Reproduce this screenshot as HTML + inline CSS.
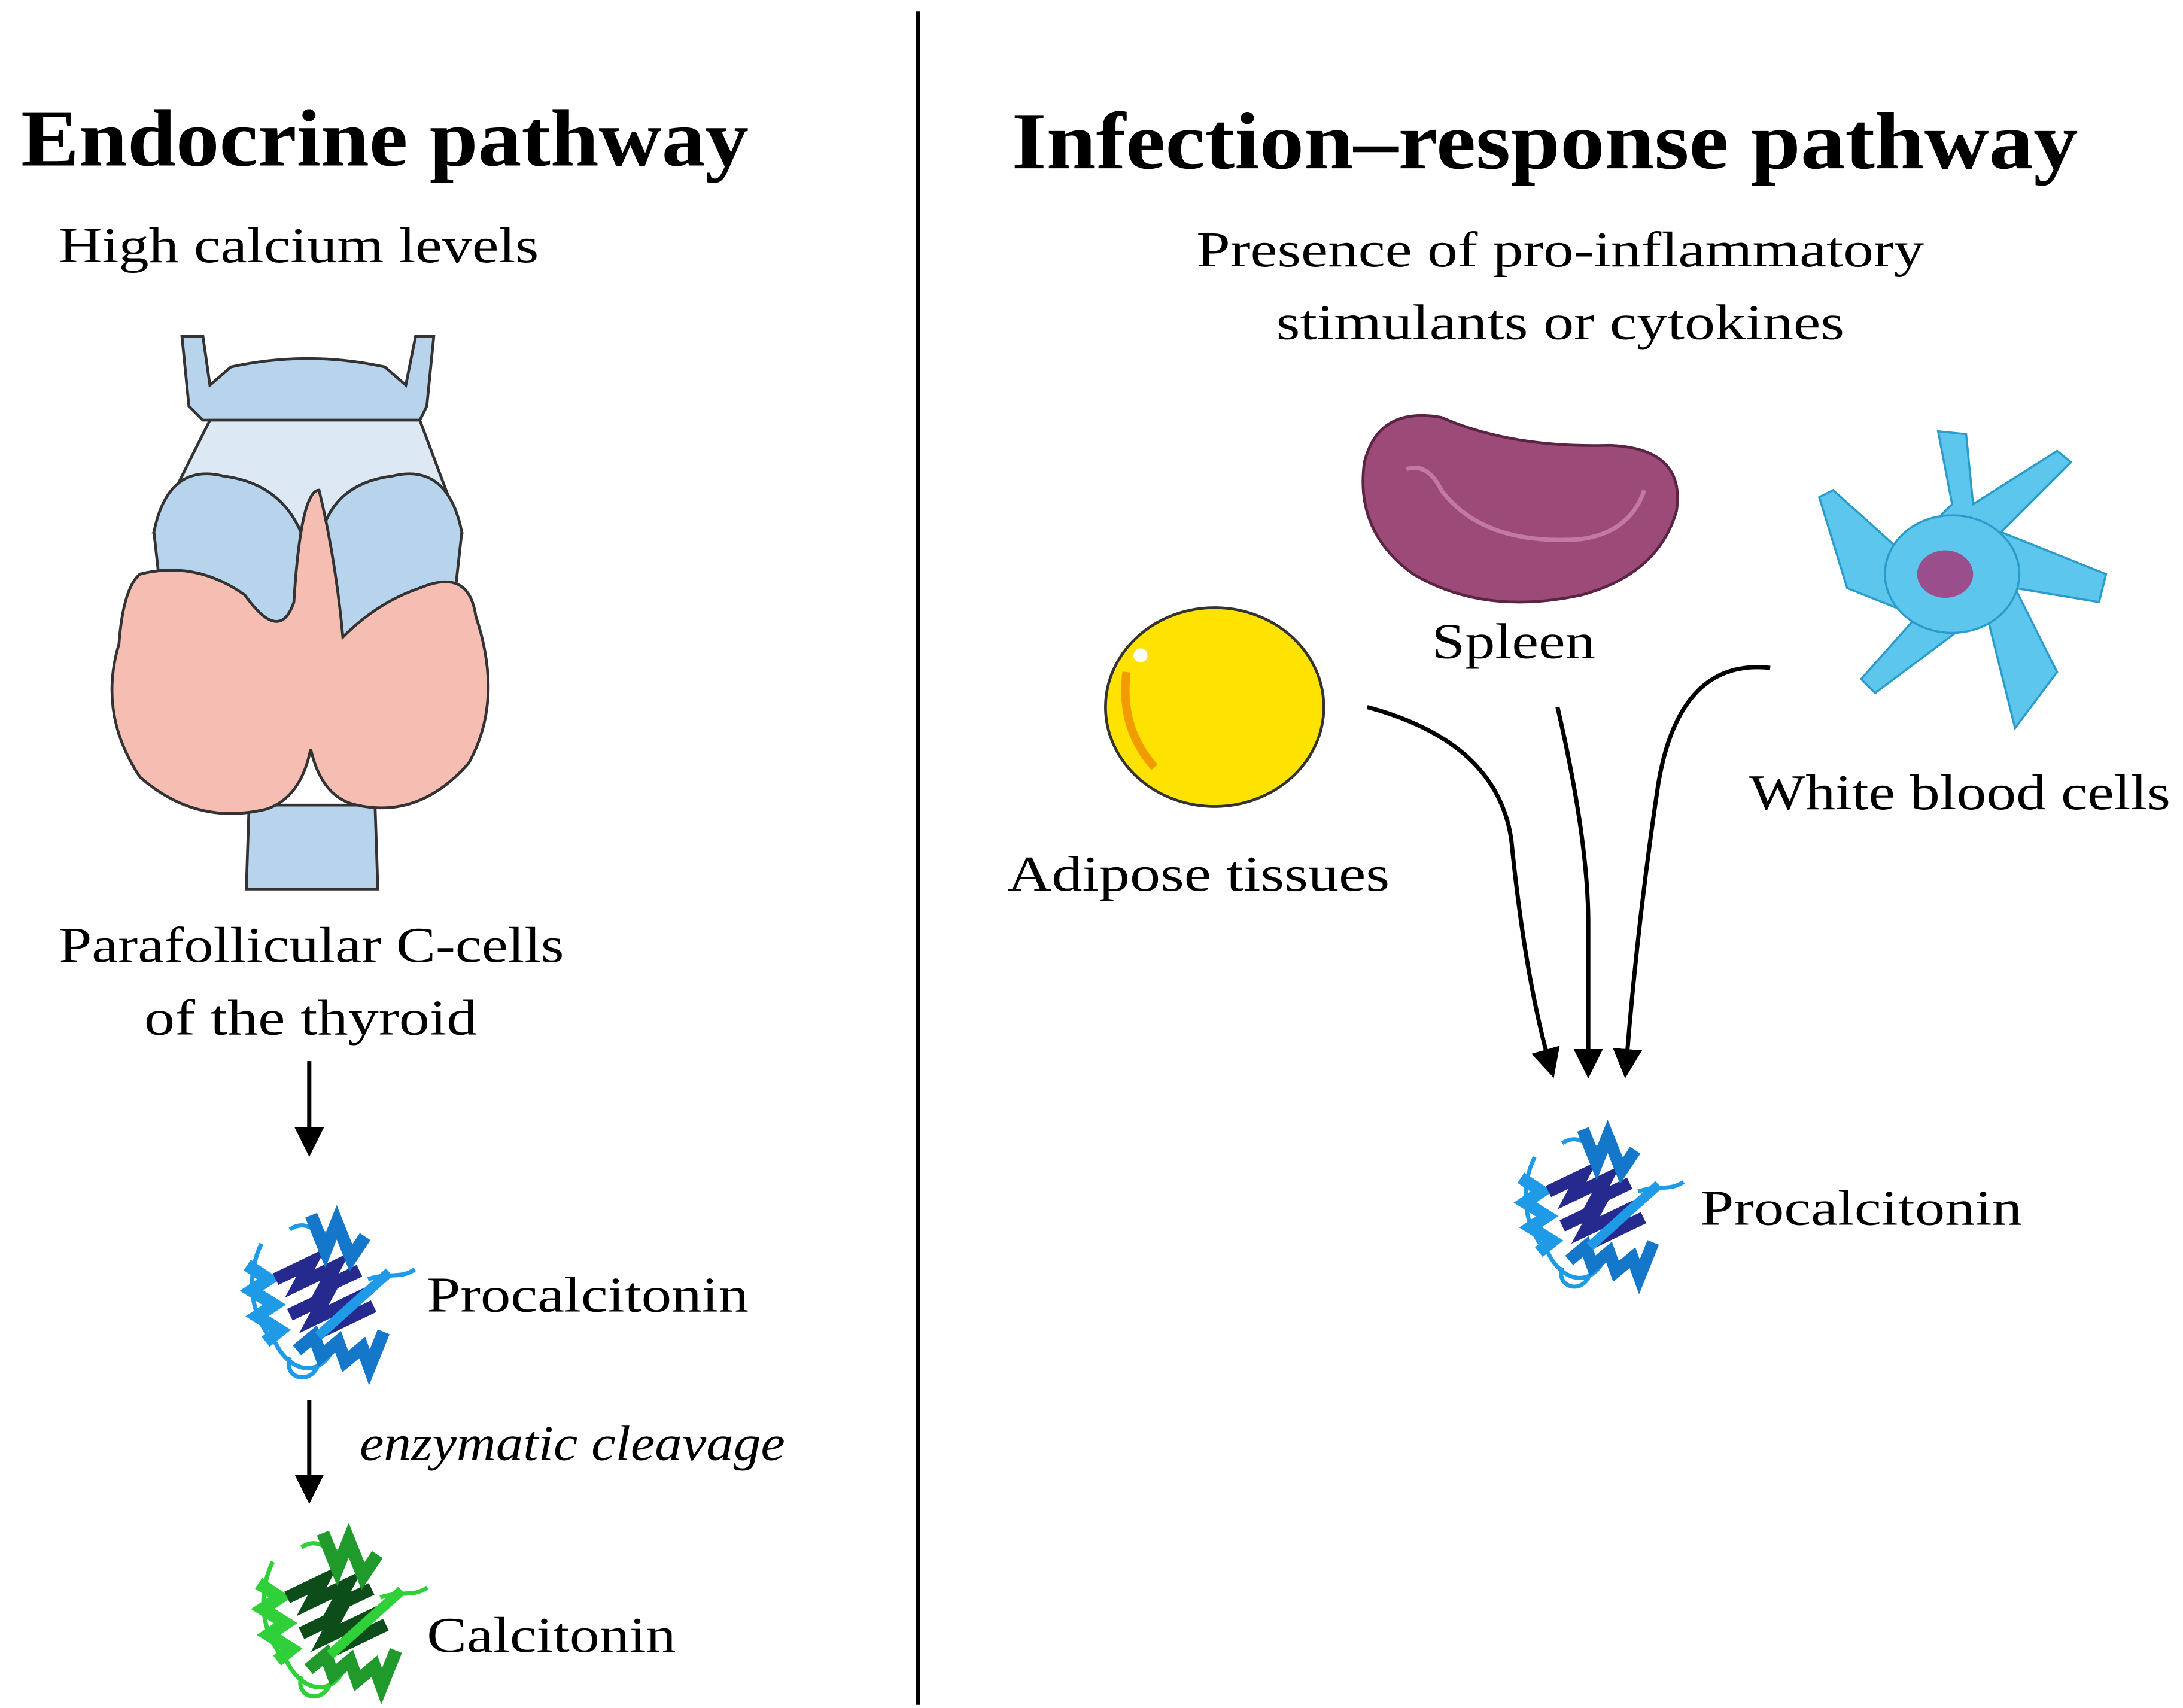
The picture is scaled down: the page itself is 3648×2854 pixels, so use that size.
<!DOCTYPE html>
<html><head><meta charset="utf-8">
<style>
html,body{margin:0;padding:0;background:#fff;}
svg{display:block;}
text{font-family:"Liberation Serif",serif;fill:#000;}
</style></head>
<body>
<svg width="3648" height="2854" viewBox="0 0 1560 1220" xmlns="http://www.w3.org/2000/svg">
<defs>
<marker id="ah" viewBox="0 0 10 10" refX="6" refY="5" markerWidth="7" markerHeight="7" orient="auto"><path d="M0,0 L10,5 L0,10 z" fill="#000"/></marker>
<symbol id="prot" viewBox="0 0 130 130">
  <path d="M20,30 C10,50 10,80 30,100 C40,120 60,125 70,105" fill="none" stroke="var(--l)" stroke-width="3"/>
  <path d="M40,110 C35,125 55,130 60,115" fill="none" stroke="var(--l)" stroke-width="3"/>
  <path d="M95,55 C110,50 118,55 128,48" fill="none" stroke="var(--l)" stroke-width="3"/>
  <path d="M40,20 C55,10 60,30 75,20" fill="none" stroke="var(--l)" stroke-width="3"/>
  <g stroke-width="9" fill="none">
   <path d="M10,45 l15,10 l-12,8 l16,10 l-12,8 l16,10 l-10,8" stroke="var(--l)"/>
   <path d="M30,55 l25,-12 l-8,15 l25,-12 l-8,15 l25,-12" stroke="var(--d)"/>
   <path d="M40,80 l25,-12 l-8,15 l25,-12 l-8,15 l25,-12" stroke="var(--d)"/>
   <path d="M55,10 l10,25 l8,-20 l10,25 l10,-15" stroke="var(--m)"/>
   <path d="M45,105 l12,-10 l5,14 l12,-10 l5,14 l12,-10 l5,14 l10,-25" stroke="var(--m)"/>
   <path d="M60,95 l50,-45" stroke="var(--l)" stroke-width="7"/>
  </g>
</symbol>
</defs>

<line x1="656" y1="8" x2="656" y2="1218" stroke="#000" stroke-width="3"/>

<text x="15" y="118" font-size="58" font-weight="bold" textLength="520" lengthAdjust="spacingAndGlyphs">Endocrine pathway</text>
<text x="723" y="120" font-size="58" font-weight="bold" textLength="762" lengthAdjust="spacingAndGlyphs">Infection–response pathway</text>

<text x="42" y="187" font-size="36" textLength="343" lengthAdjust="spacingAndGlyphs">High calcium levels</text>
<text x="855" y="190" font-size="36" textLength="520" lengthAdjust="spacingAndGlyphs">Presence of pro-inflammatory</text>
<text x="912" y="242" font-size="36" textLength="406" lengthAdjust="spacingAndGlyphs">stimulants or cytokines</text>

<!-- Thyroid -->
<g stroke="#333" stroke-width="2">
  <path d="M130,240 L145,240 L150,275 L165,262 Q220,250 275,262 L290,275 L297,240 L310,240 L305,290 L300,300 L145,300 L135,290 Z" fill="#b8d4ec"/>
  <path d="M150,300 L300,300 L330,380 L110,380 Z" fill="#dce9f5"/>
  <path d="M110,380 Q120,330 160,340 Q200,345 215,380 L215,470 L120,470 Z" fill="#b8d4ec"/>
  <path d="M330,380 Q320,330 280,340 Q240,345 230,380 L230,470 L320,470 Z" fill="#b8d4ec"/>
  <path d="M178,575 L268,575 L270,635 L176,635 Z" fill="#b8d4ec"/>
  <path d="M100,410 Q140,400 175,425 Q200,460 210,430 Q215,350 228,350 Q240,400 245,455 Q270,430 300,420 Q335,405 340,440 Q360,500 335,545 Q300,585 255,575 Q230,570 222,535 Q215,570 190,578 Q140,590 100,555 Q70,510 85,460 Q88,420 100,410 Z" fill="#f6bdb3"/>
</g>

<text x="42" y="687" font-size="36" textLength="361" lengthAdjust="spacingAndGlyphs">Parafollicular C-cells</text>
<text x="103" y="739" font-size="36" textLength="238" lengthAdjust="spacingAndGlyphs">of the thyroid</text>

<line x1="221" y1="758" x2="221" y2="818" stroke="#000" stroke-width="3" marker-end="url(#ah)"/>
<use href="#prot" x="165" y="858" width="135" height="132" style="--l:#1e9ae6;--m:#1577c9;--d:#262a8f"/>
<text x="305" y="937" font-size="36" textLength="230" lengthAdjust="spacingAndGlyphs">Procalcitonin</text>
<line x1="221" y1="1000" x2="221" y2="1066" stroke="#000" stroke-width="3" marker-end="url(#ah)"/>
<text x="257" y="1043" font-size="36" font-style="italic" textLength="304" lengthAdjust="spacingAndGlyphs">enzymatic cleavage</text>
<use href="#prot" x="172" y="1085" width="138" height="133" style="--l:#2fd03a;--m:#1f9a2b;--d:#0d4d1a"/>
<text x="305" y="1180" font-size="36" textLength="178" lengthAdjust="spacingAndGlyphs">Calcitonin</text>

<!-- Spleen -->
<path d="M975,330 Q985,290 1030,298 Q1080,320 1150,318 Q1205,320 1198,365 Q1185,410 1130,425 Q1060,440 1010,410 Q968,380 975,330 Z" fill="#9c4a78" stroke="#5a2442" stroke-width="2"/>
<path d="M1005,335 Q1020,330 1030,350 Q1060,390 1130,385 Q1165,380 1175,350" fill="none" stroke="#c27aa0" stroke-width="3"/>
<text x="1023" y="470" font-size="36" textLength="117" lengthAdjust="spacingAndGlyphs">Spleen</text>

<!-- Adipose -->
<ellipse cx="868" cy="505" rx="78" ry="71" fill="#ffe300" stroke="#333" stroke-width="2"/>
<path d="M805,480 Q800,520 825,548" fill="none" stroke="#f29b00" stroke-width="6"/>
<circle cx="815" cy="468" r="5" fill="#fff"/>
<text x="720" y="636" font-size="36" textLength="273" lengthAdjust="spacingAndGlyphs">Adipose tissues</text>

<!-- WBC -->
<g fill="#5cc6ec" stroke="#2a9ccc" stroke-width="1.5">
  <path d="M1395,360 L1385,308 L1405,310 L1410,360 L1470,322 L1480,330 L1430,380 L1505,410 L1500,430 L1440,420 L1470,480 L1440,520 L1420,440 L1400,450 L1340,495 L1330,485 L1370,440 L1320,420 L1300,355 L1310,350 L1360,395 Z"/>
  <ellipse cx="1395" cy="410" rx="48" ry="42"/>
</g>
<ellipse cx="1390" cy="410" rx="20" ry="17" fill="#9a4f8c"/>
<text x="1250" y="578" font-size="36" textLength="301" lengthAdjust="spacingAndGlyphs">White blood cells</text>

<!-- Arrows -->
<g fill="none" stroke="#000" stroke-width="3" marker-end="url(#ah)">
  <path d="M977,505 Q1070,530 1080,600 Q1090,700 1108,762"/>
  <path d="M1113,505 Q1135,600 1135,660 L1135,762"/>
  <path d="M1265,477 Q1200,470 1185,560 Q1170,660 1162,762"/>
</g>

<use href="#prot" x="1075" y="797" width="132" height="128" style="--l:#1e9ae6;--m:#1577c9;--d:#262a8f"/>
<text x="1215" y="875" font-size="36" textLength="230" lengthAdjust="spacingAndGlyphs">Procalcitonin</text>
</svg>
</body></html>
